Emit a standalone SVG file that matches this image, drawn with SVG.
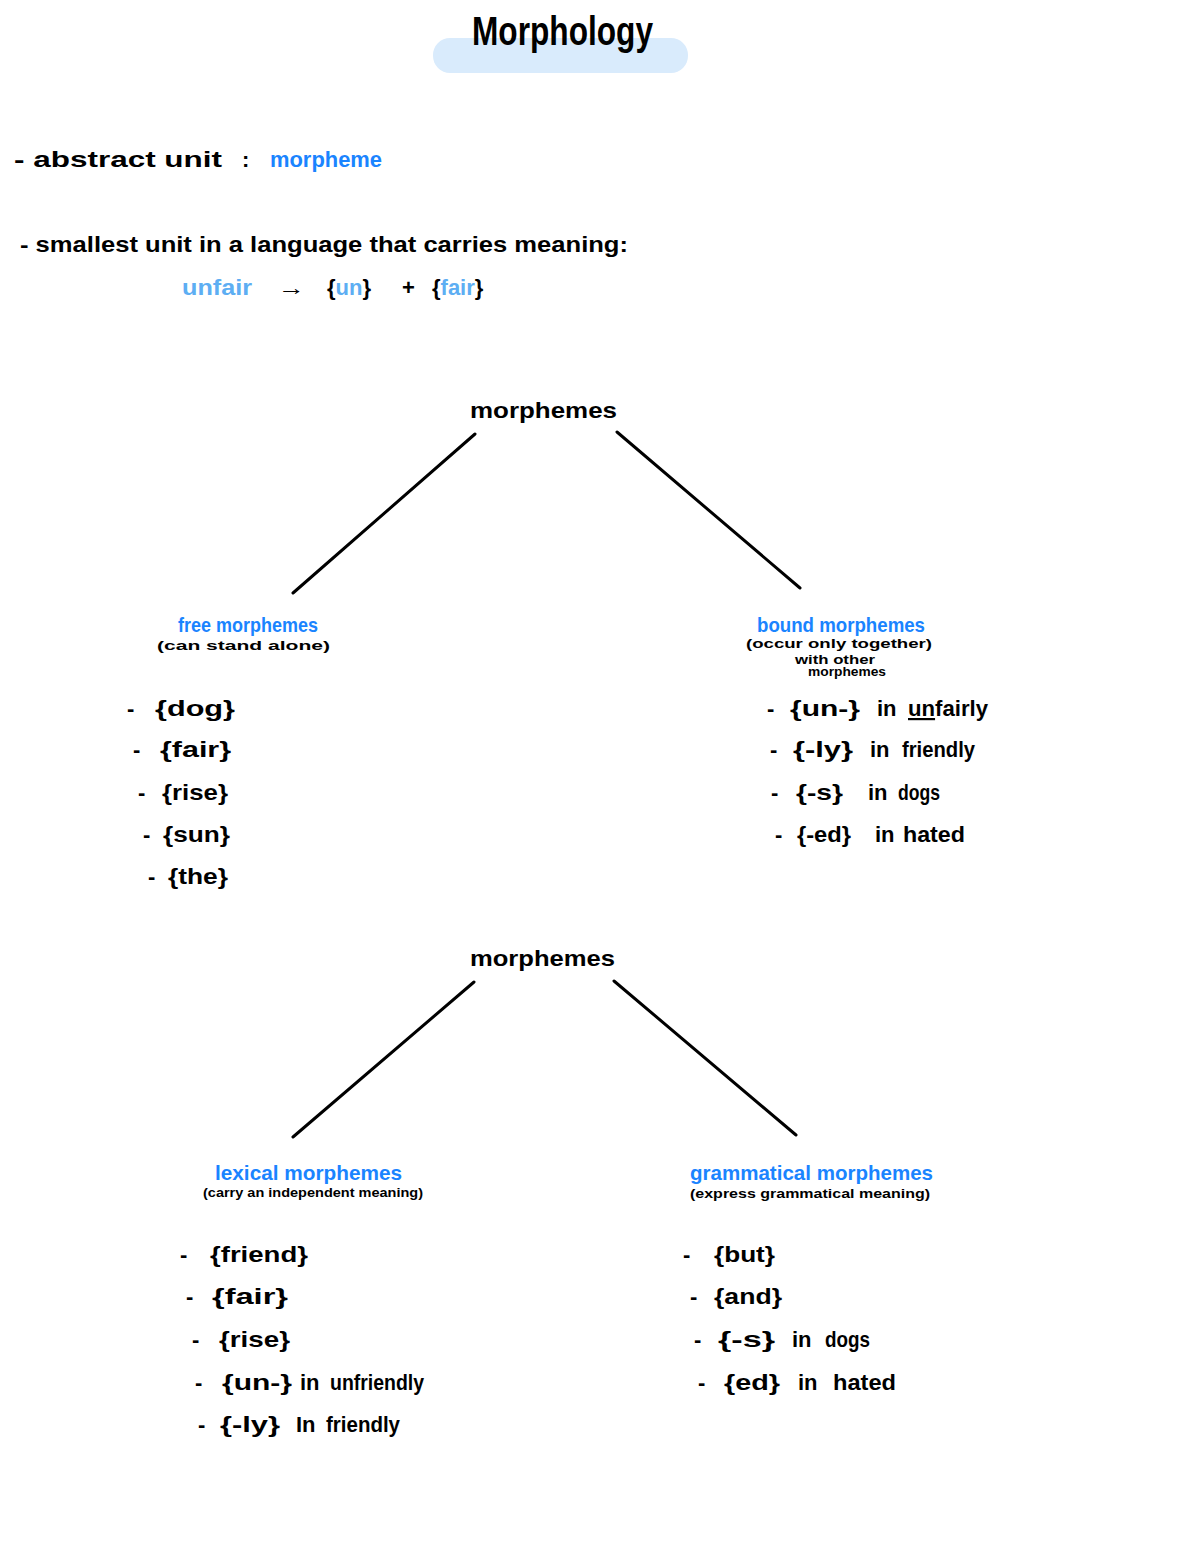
<svg xmlns="http://www.w3.org/2000/svg" width="1200" height="1551" viewBox="0 0 1200 1551">
<style>
text{font-family:"Liberation Sans","DejaVu Sans",sans-serif;fill:#000;font-weight:700}
.t{font-size:22px}
.h{font-size:21px;fill:#1a84ff}
.s{font-size:13px}
.lb{fill:#5daef3}
.b{fill:#1a84ff}
.l{font-size:22px}
.c{stroke:#000;stroke-width:3;stroke-linecap:round;fill:none}
</style>
<rect width="1200" height="1551" fill="#fff"/>
<g id="title">
<rect x="433" y="38" width="255" height="35" rx="17" fill="#d9ebfc"/>
<text x="472" y="45" font-size="40" font-weight="400" textLength="181" lengthAdjust="spacingAndGlyphs">Morphology</text>
</g>
<g id="intro">
<text class="t" x="14" y="167" textLength="208" lengthAdjust="spacingAndGlyphs">- abstract unit</text>
<text class="t" x="242" y="167">:</text>
<text class="t b" x="270" y="167" textLength="112" lengthAdjust="spacingAndGlyphs">morpheme</text>
<text class="t" x="20" y="252" font-size="20" textLength="608" lengthAdjust="spacingAndGlyphs">- smallest unit in a language that carries meaning:</text>
<text class="t lb" x="182" y="295" font-size="20" textLength="70" lengthAdjust="spacingAndGlyphs">unfair</text>
<text class="t" x="278" y="295" font-size="20" textLength="27" lengthAdjust="spacingAndGlyphs">→</text>
<text class="t" x="327" y="295" font-size="20">{<tspan class="lb">un</tspan>}</text>
<text class="t" x="402" y="295" font-size="20">+</text>
<text class="t" x="432" y="295" font-size="20">{<tspan class="lb">fair</tspan>}</text>
</g>
<g id="connectors">
<line class="c" x1="475" y1="434" x2="293" y2="593"/>
<line class="c" x1="617" y1="432" x2="800" y2="588"/>
<line class="c" x1="474" y1="982" x2="293" y2="1137"/>
<line class="c" x1="614" y1="981" x2="796" y2="1135"/>
</g>
<g id="morphemes-1">
<text class="t" x="470" y="418" textLength="147" lengthAdjust="spacingAndGlyphs">morphemes</text>
</g>
<g id="free-morphemes">
<text class="h" x="178" y="632" textLength="140" lengthAdjust="spacingAndGlyphs">free morphemes</text>
<text class="s" x="157" y="650" textLength="173" lengthAdjust="spacingAndGlyphs">(can stand alone)</text>
<text class="l" x="127" y="716">-</text><text class="l" x="155" y="716" textLength="80" lengthAdjust="spacingAndGlyphs">{dog}</text>
<text class="l" x="133" y="757">-</text><text class="l" x="160" y="757" textLength="71" lengthAdjust="spacingAndGlyphs">{fair}</text>
<text class="l" x="138" y="800">-</text><text class="l" x="162" y="800" textLength="66" lengthAdjust="spacingAndGlyphs">{rise}</text>
<text class="l" x="143" y="842">-</text><text class="l" x="163" y="842" textLength="67" lengthAdjust="spacingAndGlyphs">{sun}</text>
<text class="l" x="148" y="884">-</text><text class="l" x="168" y="884" textLength="60" lengthAdjust="spacingAndGlyphs">{the}</text>
</g>
<g id="bound-morphemes">
<text class="h" x="757" y="632" textLength="168" lengthAdjust="spacingAndGlyphs">bound morphemes</text>
<text class="s" x="746" y="648" textLength="186" lengthAdjust="spacingAndGlyphs">(occur only together)</text>
<text class="s" x="795" y="664" textLength="80" lengthAdjust="spacingAndGlyphs">with other</text>
<text class="s" x="808" y="676" textLength="78" lengthAdjust="spacingAndGlyphs">morphemes</text>
<text class="l" x="767" y="716">-</text><text class="l" x="790" y="716" textLength="70" lengthAdjust="spacingAndGlyphs">{un-}</text><text class="l" x="877" y="716">in</text><text class="l" x="908" y="716" textLength="80" lengthAdjust="spacingAndGlyphs"><tspan text-decoration="underline">un</tspan>fairly</text>
<text class="l" x="770" y="757">-</text><text class="l" x="793" y="757" textLength="60" lengthAdjust="spacingAndGlyphs">{-ly}</text><text class="l" x="870" y="757">in</text><text class="l" x="902" y="757" textLength="73" lengthAdjust="spacingAndGlyphs">friendly</text>
<text class="l" x="771" y="800">-</text><text class="l" x="796" y="800" textLength="47" lengthAdjust="spacingAndGlyphs">{-s}</text><text class="l" x="868" y="800">in</text><text class="l" x="898" y="800" textLength="42" lengthAdjust="spacingAndGlyphs">dogs</text>
<text class="l" x="775" y="842">-</text><text class="l" x="797" y="842" textLength="54" lengthAdjust="spacingAndGlyphs">{-ed}</text><text class="l" x="875" y="842">in</text><text class="l" x="903" y="842" textLength="62" lengthAdjust="spacingAndGlyphs">hated</text>
</g>
<g id="morphemes-2">
<text class="t" x="470" y="966" textLength="145" lengthAdjust="spacingAndGlyphs">morphemes</text>
</g>
<g id="lexical-morphemes">
<text class="h" x="215" y="1180" textLength="187" lengthAdjust="spacingAndGlyphs">lexical morphemes</text>
<text class="s" x="203" y="1197" textLength="220" lengthAdjust="spacingAndGlyphs">(carry an independent meaning)</text>
<text class="l" x="180" y="1262">-</text><text class="l" x="210" y="1262" textLength="98" lengthAdjust="spacingAndGlyphs">{friend}</text>
<text class="l" x="186" y="1304">-</text><text class="l" x="212" y="1304" textLength="76" lengthAdjust="spacingAndGlyphs">{fair}</text>
<text class="l" x="192" y="1347">-</text><text class="l" x="219" y="1347" textLength="71" lengthAdjust="spacingAndGlyphs">{rise}</text>
<text class="l" x="195" y="1390">-</text><text class="l" x="222" y="1390" textLength="70" lengthAdjust="spacingAndGlyphs">{un-}</text><text class="l" x="300" y="1390">in</text><text class="l" x="330" y="1390" textLength="94" lengthAdjust="spacingAndGlyphs">unfriendly</text>
<text class="l" x="198" y="1432">-</text><text class="l" x="220" y="1432" textLength="60" lengthAdjust="spacingAndGlyphs">{-ly}</text><text class="l" x="296" y="1432">In</text><text class="l" x="326" y="1432" textLength="74" lengthAdjust="spacingAndGlyphs">friendly</text>
</g>
<g id="grammatical-morphemes">
<text class="h" x="690" y="1180" textLength="243" lengthAdjust="spacingAndGlyphs">grammatical morphemes</text>
<text class="s" x="690" y="1198" textLength="240" lengthAdjust="spacingAndGlyphs">(express grammatical meaning)</text>
<text class="l" x="683" y="1262">-</text><text class="l" x="714" y="1262" textLength="61" lengthAdjust="spacingAndGlyphs">{but}</text>
<text class="l" x="690" y="1304">-</text><text class="l" x="714" y="1304" textLength="68" lengthAdjust="spacingAndGlyphs">{and}</text>
<text class="l" x="694" y="1347">-</text><text class="l" x="718" y="1347" textLength="57" lengthAdjust="spacingAndGlyphs">{-s}</text><text class="l" x="792" y="1347">in</text><text class="l" x="825" y="1347" textLength="45" lengthAdjust="spacingAndGlyphs">dogs</text>
<text class="l" x="698" y="1390">-</text><text class="l" x="724" y="1390" textLength="56" lengthAdjust="spacingAndGlyphs">{ed}</text><text class="l" x="798" y="1390">in</text><text class="l" x="833" y="1390" textLength="63" lengthAdjust="spacingAndGlyphs">hated</text>
</g>
</svg>
